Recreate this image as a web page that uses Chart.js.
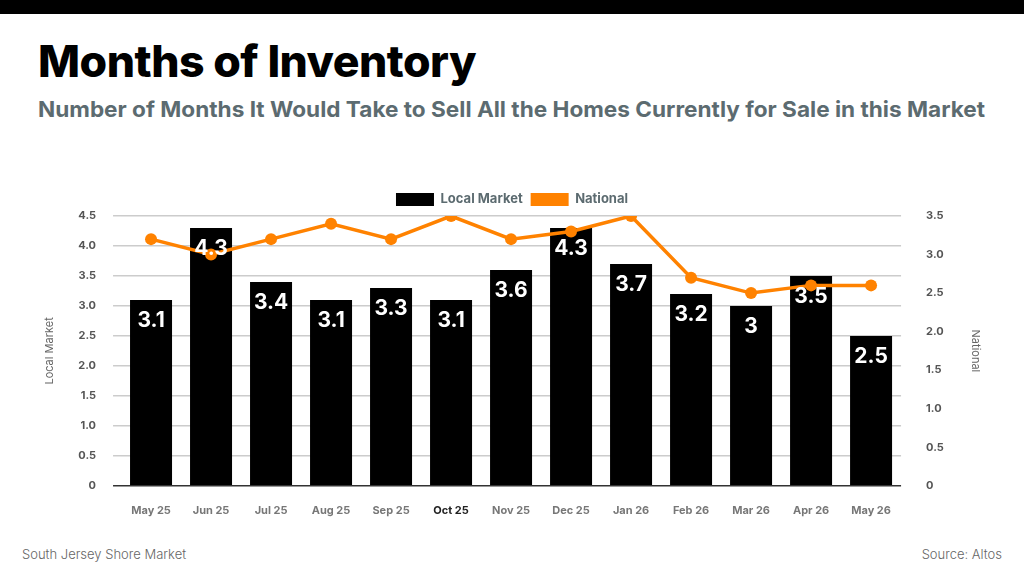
<!DOCTYPE html>
<html><head><meta charset="utf-8">
<script src="https://cdn.jsdelivr.net/npm/chart.js@4/dist/chart.umd.min.js"></script>
<style>
html,body{margin:0;padding:0;background:#fff;width:1024px;height:576px;overflow:hidden;font-family:Inter,"Noto Sans",sans-serif;}
#topbar{position:absolute;left:0;top:0;width:1024px;height:14px;background:#000;}
#title{position:absolute;left:38px;top:34px;font-size:44px;font-weight:800;color:#000;white-space:nowrap;transform-origin:0 0;letter-spacing:-0.5px}
#subtitle{position:absolute;left:38px;top:96px;font-size:22px;font-weight:700;color:#5c6b70;white-space:nowrap;transform-origin:0 0;}
#foot1{position:absolute;left:22px;top:546px;font-size:13px;color:#666;font-weight:300;}
#foot2{position:absolute;right:22px;top:546px;font-size:13px;color:#666;font-weight:300;}
#wrap{position:absolute;left:0;top:185px;width:1024px;height:350px;}
</style></head>
<body>
<div id="topbar"></div>
<div id="title">Months of Inventory</div>
<div id="subtitle">Number of Months It Would Take to Sell All the Homes Currently for Sale in this Market</div>
<div id="wrap"><canvas id="c"></canvas></div>
<div id="foot1">South Jersey Shore Market</div>
<div id="foot2">Source: Altos</div>
<script>
const categories = ["May 25","Jun 25","Jul 25","Aug 25","Sep 25","Oct 25","Nov 25","Dec 25","Jan 26","Feb 26","Mar 26","Apr 26","May 26"];
const localMarket = [3.1,4.3,3.4,3.1,3.3,3.1,3.6,4.3,3.7,3.2,3.0,3.5,2.5];
const national = [3.2,3.0,3.2,3.4,3.2,3.5,3.2,3.3,3.5,2.7,2.5,2.6,2.6];
const leftTicks = [0,0.5,1.0,1.5,2.0,2.5,3.0,3.5,4.0,4.5];
const rightTicks = [0,0.5,1.0,1.5,2.0,2.5,3.0,3.5];

function fit(id, w){
  const el=document.getElementById(id);
  const r=el.getBoundingClientRect().width;
  el.style.transform='scaleX('+(w/r)+')';
}
fit('title',438); fit('subtitle',947);

const barLabels = {
  id:'barLabels',
  afterDatasetsDraw(chart){
    const ctx=chart.ctx;
    const meta=chart.getDatasetMeta(0);
    ctx.save();
    ctx.fillStyle='#fff';
    ctx.font='700 21px Inter, "Noto Sans", sans-serif';
    ctx.textAlign='center';ctx.textBaseline='middle';
    meta.data.forEach((b,i)=>{
      ctx.fillText(String(localMarket[i]), b.x, b.y+21);
    });
    ctx.restore();
  }
};

new Chart(document.getElementById('c'),{
  data:{
    labels:categories,
    datasets:[
      {type:'bar',label:'Local Market',data:localMarket,backgroundColor:'#000',borderWidth:0,yAxisID:'y',categoryPercentage:1,barPercentage:0.7,order:2},
      {type:'line',label:'National',data:national,borderColor:'#ff8200',backgroundColor:'#ff8200',borderWidth:3.5,pointRadius:6,pointHoverRadius:6,pointBackgroundColor:'#ff8200',pointBorderWidth:0,yAxisID:'y1',order:1,tension:0}
    ]
  },
  options:{
    responsive:true,maintainAspectRatio:false,animation:false,
    layout:{padding:{left:33.5,right:33.5,top:0,bottom:0}},
    plugins:{
      legend:{display:true,position:'top',labels:{boxWidth:38,boxHeight:13,padding:8,color:'#5c6b70',font:{family:'Inter',size:13,weight:'700'},useBorderRadius:false,
        generateLabels(chart){return chart.data.datasets.map((d,i)=>({text:d.label,fillStyle:d.type==='bar'?'#000':'#ff8200',strokeStyle:d.type==='bar'?'#000':'#ff8200',lineWidth:0,fontColor:'#5c6b70',datasetIndex:i}));}
      }},
      tooltip:{enabled:false}
    },
    scales:{
      x:{grid:{display:false,drawTicks:false},border:{display:false},
        ticks:{padding:18,font:{family:'Inter',size:11,weight:'700'},color:(c)=>c.index===5?'#222':'#777',maxRotation:0}},
      y:{position:'left',min:0,max:4.5,
        afterBuildTicks(a){a.ticks=leftTicks.map(v=>({value:v}));},
        ticks:{padding:17,font:{family:'Inter',size:11,weight:'700'},color:'#555',callback:(v)=>v===0?'0':v.toFixed(1)},
        grid:{color:(c)=>c.tick.value===0?'#333':'#ccc',lineWidth:1.5,tickLength:8},
        border:{display:false},
        title:{display:true,text:'Local Market',color:'#666',font:{family:'Inter',size:11,weight:'400'},padding:{top:10,bottom:4.5}}},
      y1:{position:'right',min:0,max:3.5,
        afterBuildTicks(a){a.ticks=rightTicks.map(v=>({value:v}));},
        ticks:{padding:17,font:{family:'Inter',size:11,weight:'700'},color:'#555',callback:(v)=>v===0?'0':v.toFixed(1)},
        grid:{drawOnChartArea:false,color:'rgba(0,0,0,0)',tickLength:8},
        border:{display:false},
        title:{display:true,text:'National',color:'#666',font:{family:'Inter',size:11,weight:'400'},padding:{top:9,bottom:7.5}}}
    }
  },
  plugins:[barLabels]
});
</script>
</body></html>
